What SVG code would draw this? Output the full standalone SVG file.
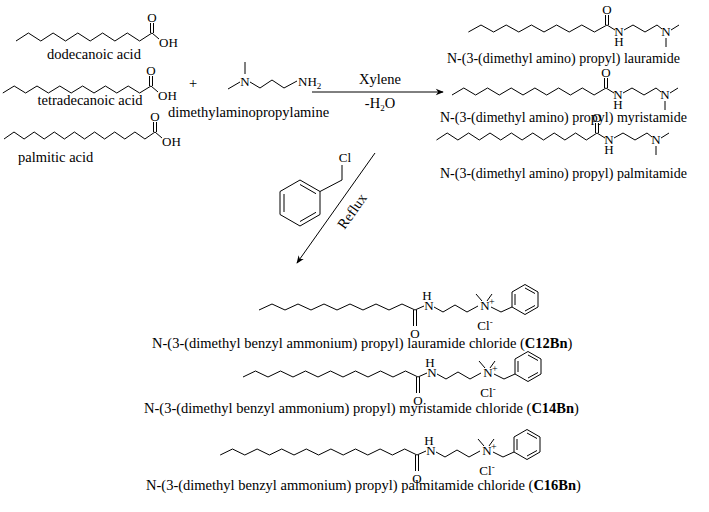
<svg xmlns="http://www.w3.org/2000/svg" xmlns:xlink="http://www.w3.org/1999/xlink" width="709" height="512" viewBox="0 0 709 512">
<style>
text{font-family:"Liberation Serif","Times New Roman",serif;font-size:14.5px;fill:#000}
.a{font-size:13px}
.t{font-size:14px}
.m{text-anchor:middle}
polyline,line,polygon{fill:none;stroke:#000;stroke-width:1}
</style>
<defs>
<marker id="ah" viewBox="0 0 10 10" refX="9" refY="5" markerWidth="10" markerHeight="8" orient="auto" markerUnits="userSpaceOnUse"><path d="M0,1 L10,5 L0,9 L3,5Z" fill="#000"/></marker>
<g id="acidHead">
<line x1="-1.5" y1="0" x2="-1.5" y2="-10"/><line x1="1.5" y1="0" x2="1.5" y2="-10"/>
<text class="a m" x="0" y="-11">O</text>
<line x1="0" y1="0" x2="7" y2="6"/>
<text class="a" x="7" y="14">OH</text>
</g>
<g id="amHead">
<line x1="-1.5" y1="0" x2="-1.5" y2="-10"/><line x1="1.5" y1="0" x2="1.5" y2="-10"/>
<text class="a m" x="0" y="-11">O</text>
<line x1="0" y1="0" x2="8" y2="5"/>
<text class="a m" x="12" y="11">N</text>
<text class="a m" x="12" y="21">H</text>
<polyline points="17,5 26,0 38,7 50,0 55,4"/>
<text class="a m" x="59" y="11">N</text>
<line x1="64" y1="5" x2="72" y2="0"/>
<line x1="59" y1="13" x2="59" y2="22"/>
</g>
<g id="qHead">
<line x1="-1.5" y1="0" x2="-1.5" y2="16"/><line x1="1.5" y1="0" x2="1.5" y2="16"/>
<text class="a m" x="0" y="28">O</text>
<line x1="0" y1="0" x2="9" y2="-4"/>
<text class="a m" x="14" y="0">N</text>
<text class="a m" x="12" y="-10">H</text>
<polyline points="19,-3 28,2 40,-5 52,2 63,-4"/>
<text class="a m" x="70" y="0">N</text>
<text style="font-size:10px" x="74" y="-5">+</text>
<line x1="67" y1="-9" x2="61" y2="-16"/>
<line x1="72" y1="-9" x2="77" y2="-16"/>
<polyline points="76,-3 86,2 97,-3"/>
<polygon points="97,-3 97,-18 110,-25.5 123,-18 123,-3 110,4.5"/>
<line x1="100" y1="-5" x2="100" y2="-16"/>
<line x1="110" y1="-22" x2="120" y2="-16.5"/>
<line x1="120" y1="-4.5" x2="110" y2="1"/>
<text class="a m" x="70" y="20">Cl<tspan style="font-size:9px" dy="-5">-</tspan></text>
</g>
</defs>

<g id="dodecanoic-acid" transform="translate(152,33)">
<polyline points="-136,8 -123.6,0 -111.2,8 -98.9,0 -86.5,8 -74.2,0 -61.8,8 -49.4,0 -37.1,8 -24.7,0 -12.4,8 0,0"/>
<use href="#acidHead"/>
</g>
<text class="m" x="94" y="59">dodecanoic acid</text>

<g id="tetradecanoic-acid" transform="translate(151,86)">
<polyline points="-148.2,7 -136.8,0 -125.4,7 -114,0 -102.6,7 -91.2,0 -79.8,7 -68.4,0 -57,7 -45.6,0 -34.2,7 -22.8,0 -11.4,7 0,0"/>
<use href="#acidHead"/>
</g>
<text class="m" x="90" y="105">tetradecanoic acid</text>

<g id="palmitic-acid" transform="translate(155,132)">
<polyline points="-151,7 -141,0 -130.9,7 -120.8,0 -110.8,7 -100.7,0 -90.6,7 -80.6,0 -70.5,7 -60.4,0 -50.4,7 -40.3,0 -30.2,7 -20.1,0 -10.1,7 0,0"/>
<use href="#acidHead"/>
</g>
<text x="18" y="162">palmitic acid</text>

<text class="m" x="193" y="88">+</text>

<g id="dmapa">
<line x1="245" y1="62" x2="245" y2="74"/>
<line x1="228" y1="89" x2="240" y2="82"/>
<text class="a m" x="245" y="86">N</text>
<polyline points="250,82 260,88 272,80 284,88 297,81"/>
<text class="a" x="298" y="86">NH<tspan style="font-size:9px" dy="3">2</tspan></text>
<text x="168" y="117">dimethylaminopropylamine</text>
</g>

<g id="connectors">
<line x1="312" y1="92" x2="443" y2="92" marker-end="url(#ah)"/>
<line x1="375" y1="153" x2="297" y2="263" marker-end="url(#ah)"/>
</g>
<text class="m" x="380" y="84">Xylene</text>
<text class="m" x="380" y="108">-H<tspan style="font-size:9px" dy="3">2</tspan><tspan dy="-3">O</tspan></text>
<text class="m" transform="translate(356,214) rotate(-54.7)">Reflux</text>

<g id="benzyl-chloride">
<polygon points="300,180 320,191.5 320,214.5 300,226 280,214.5 280,191.5"/>
<line x1="300" y1="184.5" x2="316" y2="193.7"/>
<line x1="316" y1="212.3" x2="300" y2="221.5"/>
<line x1="284" y1="212" x2="284" y2="194"/>
<polyline points="320,191.5 342,180 342,165"/>
<text class="a m" x="345" y="162">Cl</text>
</g>

<g id="amide-laur" transform="translate(607,25)">
<polyline points="-138.6,7 -126,0 -113.4,7 -100.8,0 -88.2,7 -75.6,0 -63,7 -50.4,0 -37.8,7 -25.2,0 -12.6,7 0,0"/>
<use href="#amHead"/>
</g>
<text class="t" x="447" y="63">N-(3-(dimethyl amino) propyl) lauramide</text>

<g id="amide-myr" transform="translate(606,88)">
<polyline points="-154,7 -142.2,0 -130.4,7 -118.5,0 -106.7,7 -94.8,0 -83,7 -71.1,0 -59.3,7 -47.4,0 -35.6,7 -23.7,0 -11.9,7 0,0"/>
<use href="#amHead"/>
</g>
<text class="t" x="440" y="122">N-(3-(dimethyl amino) propyl) myristamide</text>

<g id="amide-palm" transform="translate(597,133)">
<polyline points="-160.5,7 -149.8,0 -139.1,7 -128.4,0 -117.7,7 -107,0 -96.3,7 -85.6,0 -74.9,7 -64.2,0 -53.5,7 -42.8,0 -32.1,7 -21.4,0 -10.7,7 0,0"/>
<use href="#amHead"/>
</g>
<text class="t" x="440" y="178">N-(3-(dimethyl amino) propyl) palmitamide</text>

<g id="C12Bn" transform="translate(415,310)">
<polyline points="-156,0 -143,-6 -130,0 -117,-6 -104,0 -91,-6 -78,0 -65,-6 -52,0 -39,-6 -26,0 -13,-6 0,0"/>
<use href="#qHead"/>
</g>
<text x="152" y="348">N-(3-(dimethyl benzyl ammonium) propyl) lauramide chloride (<tspan font-weight="bold">C12Bn</tspan>)</text>

<g id="C14Bn" transform="translate(418,377)">
<polyline points="-175,0 -162.5,-6 -150,0 -137.5,-6 -125,0 -112.5,-6 -100,0 -87.5,-6 -75,0 -62.5,-6 -50,0 -37.5,-6 -25,0 -12.5,-6 0,0"/>
<use href="#qHead"/>
</g>
<text x="144" y="413">N-(3-(dimethyl benzyl ammonium) propyl) myristamide chloride  (<tspan font-weight="bold">C14Bn</tspan>)</text>

<g id="C16Bn" transform="translate(417,455)">
<polyline points="-196.8,0 -184.5,-6 -172.2,0 -159.9,-6 -147.6,0 -135.3,-6 -123,0 -110.7,-6 -98.4,0 -86.1,-6 -73.8,0 -61.5,-6 -49.2,0 -36.9,-6 -24.6,0 -12.3,-6 0,0"/>
<use href="#qHead"/>
</g>
<text x="146" y="490">N-(3-(dimethyl benzyl ammonium) propyl) palmitamide chloride  (<tspan font-weight="bold">C16Bn</tspan>)</text>
</svg>
